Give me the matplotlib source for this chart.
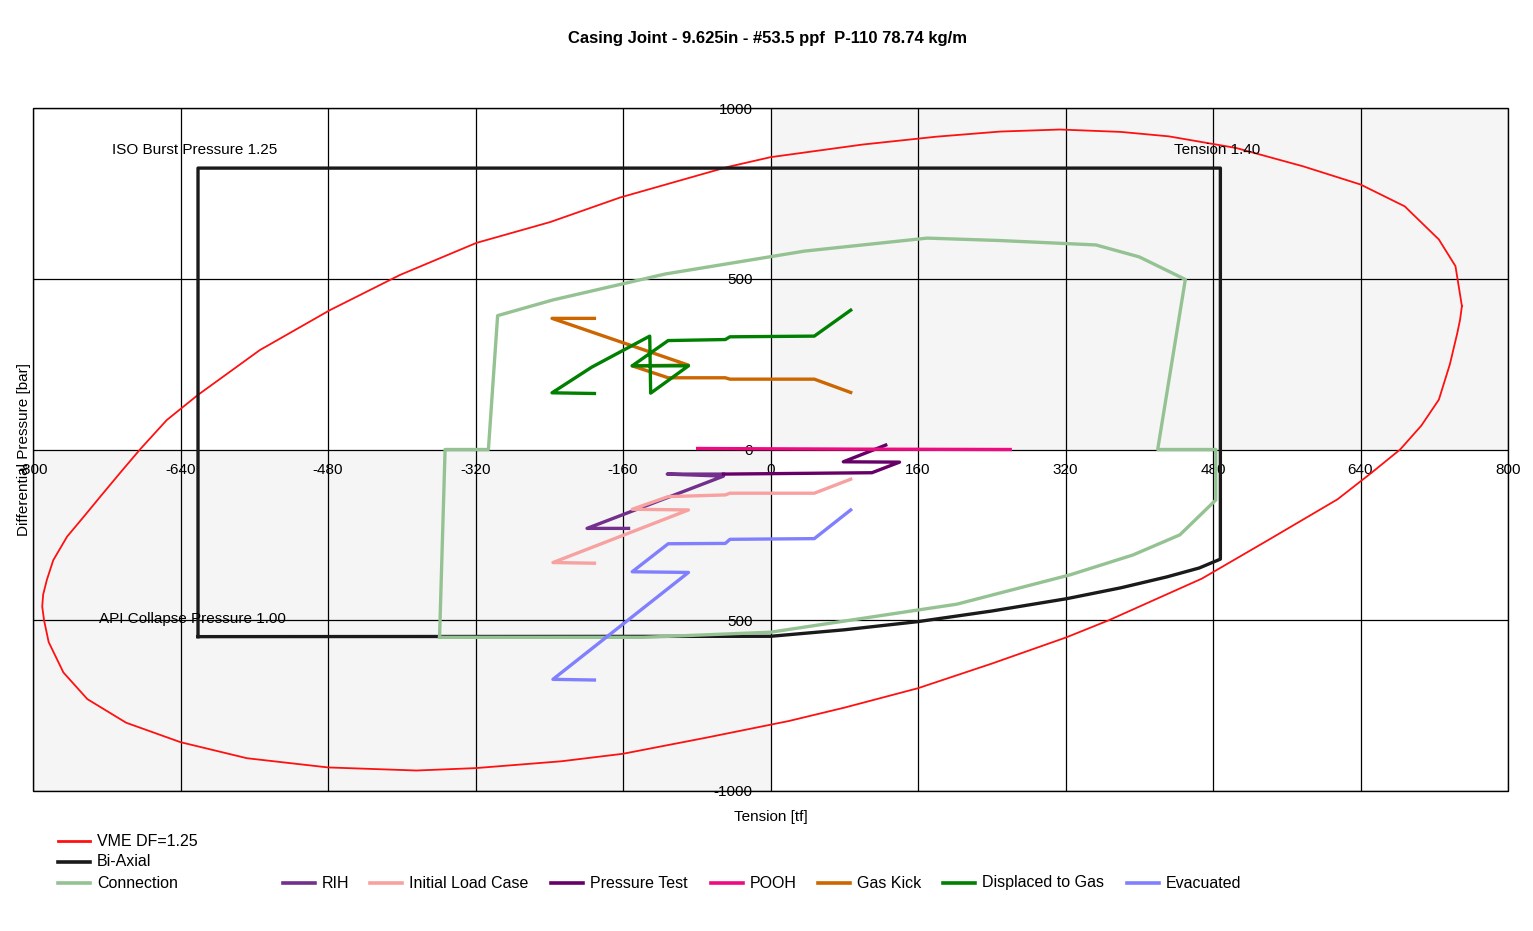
import matplotlib
matplotlib.use("Agg")
import matplotlib.pyplot as plt
from matplotlib.lines import Line2D
from matplotlib.patches import Rectangle

plt.rcParams['font.family'] = ['Liberation Sans', 'DejaVu Sans']
plt.rcParams['axes.unicode_minus'] = False

# VME ellipse DF=1.25 (tension tf, differential pressure bar)
vme_x = [750, 748, 745, 737, 725, 706, 683, 652, 615, 540, 468, 367, 321, 240, 160, 80, 20,
         -70, -160, -227, -320, -384, -480, -568, -640, -699, -741, -767, -783, -788, -790,
         -789, -785, -778, -763, -745, -727, -706, -684, -655, -621, -554, -478, -402, -319,
         -239, -163, -47, 0, 100, 180, 249, 314, 380, 432, 505, 578, 640, 688, 725, 743, 750]
vme_y = [420, 380, 341, 250, 146, 70, 0, -68, -146, -265, -378, -500, -550, -627, -699, -756, -795,
         -844, -891, -913, -933, -940, -931, -904, -857, -800, -731, -653, -564, -500, -460,
         -425, -382, -324, -255, -197, -138, -70, 0, 86, 160, 291, 408, 511, 605,
         666, 738, 827, 856, 893, 916, 931, 937, 930, 917, 883, 829, 776, 712, 615, 537, 420]

# Bi-axial envelope
biax_x = [-621, -621, 488, 488, 465, 430, 380, 321, 240, 160, 80, 0, -621]
biax_y = [-548, 824, 824, -321, -347, -373, -405, -437, -473, -504, -528, -547, -548]

# Connection envelope
conn_x = [-359, -353, -306, -296, -236, -114, 37, 170, 248, 353, 400, 450, 420, 483, 483,
          444, 393, 325, 202, 160, 0, -138, -359]
conn_y = [-550, 0, 0, 392, 438, 514, 581, 619, 612, 599, 564, 498, 0, 0, -148,
          -250, -309, -367, -453, -470, -535, -550, -550]

# load cases
rih_x = [-154, -199, -51, -112, -51]
rih_y = [-231, -231, -78, -72, -72]

init_x = [-191, -236, -89, -150, -111, -49, -44, 47.5, 87]
init_y = [-333, -331, -177, -175, -138, -133, -128, -128, -87]

ptest_x = [125, 79, 140, 110, -51]
ptest_y = [13, -36, -37, -68, -72]

pooh_x = [-79, 0, 100, 260]
pooh_y = [3, 2, 1, 0]

gas_x = [-191, -237, -89, -150, -111, -49, -44, 47.5, 87]
gas_y = [384, 384, 247, 245, 210, 210, 206, 206, 167]

disp_x = [-191, -237, -194, -131, -130, -89, -150, -111, -49, -44, 47.5, 87]
disp_y = [164, 166, 241, 332, 165, 245, 245, 319, 322, 330, 332, 408]

evac_x = [-191, -236, -89, -150, -111, -49, -44, 47.5, 87]
evac_y = [-675, -673, -360, -358, -276, -275, -263, -261, -177]

x_ticks = [-800, -640, -480, -320, -160, 0, 160, 320, 480, 640, 800]
y_ticks = [-1000, -500, 0, 500, 1000]
y_tick_labels = ['-1000', '500', '0', '500', '1000']

W, H = 1533, 931
fig = plt.figure(figsize=(W / 100, H / 100), dpi=100)
ax = fig.add_axes([33 / W, (H - 791) / H, 1475 / W, 683 / H])
ax.set_xlim(-800, 800)
ax.set_ylim(-1000, 1000)

# shaded quadrants
ax.fill_between([0, 800], 0, 1000, color='#f5f5f5', lw=0, zorder=1)
ax.fill_between([-800, 0], -1000, 0, color='#f5f5f5', lw=0, zorder=1)

ax.set_xticks(x_ticks)
ax.set_yticks(y_ticks)
ax.set_yticklabels(y_tick_labels)
ax.set_axisbelow(False)
ax.grid(True, color='black', lw=0.9)
for s in ax.spines.values():
    s.set_visible(False)
ax.add_patch(Rectangle((0, 0), 1, 1, transform=ax.transAxes, fill=False,
                       ec='black', lw=1.0, zorder=5, clip_on=False))
ax.spines['bottom'].set_position('zero')
ax.spines['left'].set_position('zero')
ax.tick_params(length=0, labelsize=11)
ax.tick_params(axis='x', pad=10)
ax.tick_params(axis='y', pad=13)

lines = []
lines.append(ax.plot(vme_x, vme_y, color='#ff1010', lw=1.3, zorder=3, label='VME DF=1.25')[0])
lines.append(ax.plot(biax_x, biax_y, color='#1a1a1a', lw=2.4, zorder=3, label='Bi-Axial')[0])
lines.append(ax.plot(conn_x, conn_y, color='#95c293', lw=2.4, zorder=3, label='Connection')[0])
lines.append(ax.plot(rih_x, rih_y, color='#72308c', lw=2.4, zorder=3, label='RIH')[0])
lines.append(ax.plot(init_x, init_y, color='#f7a1a1', lw=2.4, zorder=3, label='Initial Load Case')[0])
lines.append(ax.plot(ptest_x, ptest_y, color='#660066', lw=2.4, zorder=3, label='Pressure Test')[0])
lines.append(ax.plot(pooh_x, pooh_y, color='#ee0a80', lw=2.4, zorder=3, label='POOH')[0])
lines.append(ax.plot(gas_x, gas_y, color='#cc6600', lw=2.4, zorder=3, label='Gas Kick')[0])
lines.append(ax.plot(disp_x, disp_y, color='#008000', lw=2.4, zorder=3, label='Displaced to Gas')[0])
lines.append(ax.plot(evac_x, evac_y, color='#8080ff', lw=2.4, zorder=3, label='Evacuated')[0])

# annotations
ax.text(-714, 877, 'ISO Burst Pressure 1.25', fontsize=11, va='center', ha='left', zorder=6)
ax.text(438, 877, 'Tension 1.40', fontsize=11, va='center', ha='left', zorder=6)
ax.text(-728, -496, 'API Collapse Pressure 1.00', fontsize=11, va='center', ha='left', zorder=6)

fig.text(767 / W, 1 - 38 / H, 'Casing Joint - 9.625in - #53.5 ppf  P-110 78.74 kg/m',
         ha='center', va='center', fontsize=12, fontweight='bold')
fig.text(771 / W, 1 - 817 / H, 'Tension [tf]', ha='center', va='center', fontsize=11)
fig.text(24 / W, 1 - 450 / H, 'Differential Pressure [bar]', ha='center', va='center',
         fontsize=11, rotation=90)

# custom legend layout (swatch left px, row py)
leg_pos = [(58, 841), (58, 862), (58, 883), (283, 883), (370, 883), (551, 883),
           (711, 883), (818, 883), (943, 883), (1127, 883)]
for ln, (lx, ly) in zip(lines, leg_pos):
    y = 1 - ly / H
    fig.add_artist(Line2D([lx / W, (lx + 32) / W], [y, y], color=ln.get_color(),
                          lw=2.6 if ln.get_label() != 'VME DF=1.25' else 2.0))
    fig.text((lx + 39) / W, y, ln.get_label(), ha='left', va='center', fontsize=11.5)

fig.savefig('out.png', dpi=100)
